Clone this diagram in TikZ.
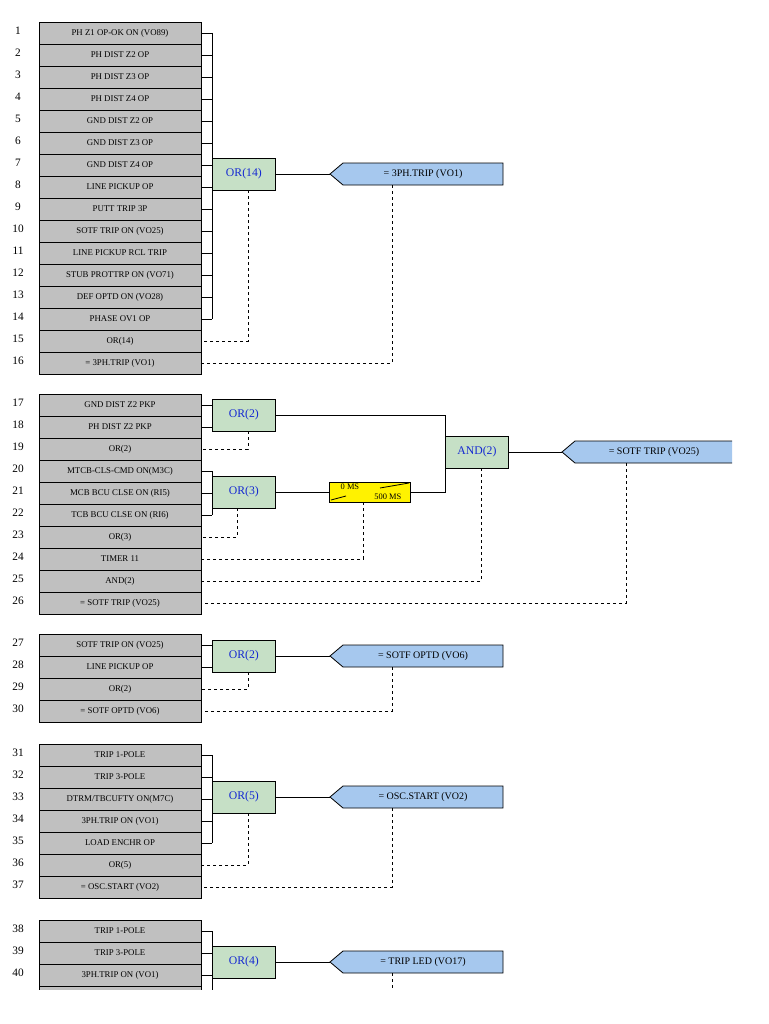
\documentclass[tikz,border=0pt]{standalone}
\usepackage{fontspec}
\setmainfont{Liberation Serif}
\usetikzlibrary{shapes.arrows,shapes.geometric}
\definecolor{rowg}{RGB}{192,192,192}
\definecolor{gateg}{RGB}{198,224,198}
\definecolor{outb}{RGB}{166,200,238}
\definecolor{gblue}{RGB}{20,40,210}
\begin{document}
\begin{tikzpicture}[x=0.75pt,y=-0.75pt,
  row/.style={draw,line width=0.6pt,fill=rowg,minimum width=121.5pt,minimum height=16.5pt,inner sep=0pt,font=\fontsize{6.6}{7}\selectfont},
  num/.style={font=\fontsize{8.5}{9}\selectfont},
  gate/.style={draw,line width=0.6pt,fill=gateg,minimum width=47.25pt,minimum height=24pt,inner sep=0pt,text=gblue,font=\fontsize{8.8}{9}\selectfont},
  wire/.style={line width=0.6pt},
  fb/.style={line width=0.6pt,dash pattern=on 2.5pt off 2pt}]
\useasboundingbox (0,0) rectangle (768,1024);
\begin{scope}
\clip (0,0) rectangle (768,989);
\foreach \i/\y/\t in {
1/33/PH Z1 OP-OK ON (VO89),2/55/PH DIST Z2 OP,3/77/PH DIST Z3 OP,4/99/PH DIST Z4 OP,
5/121/GND DIST Z2 OP,6/143/GND DIST Z3 OP,7/165/GND DIST Z4 OP,8/187/LINE PICKUP OP,
9/209/PUTT TRIP 3P,10/231/SOTF TRIP ON (VO25),11/253/LINE PICKUP RCL TRIP,12/275/STUB PROTTRP ON (VO71),
13/297/DEF OPTD ON (VO28),14/319/PHASE OV1 OP,15/341/OR(14),16/363/= 3PH.TRIP (VO1),
17/405/GND DIST Z2 PKP,18/427/PH DIST Z2 PKP,19/449/OR(2),20/471/MTCB-CLS-CMD ON(M3C),
21/493/MCB BCU CLSE ON (RI5),22/515/TCB BCU CLSE ON (RI6),23/537/OR(3),24/559/TIMER 11,
25/581/AND(2),26/603/= SOTF TRIP (VO25),
27/645/SOTF TRIP ON (VO25),28/667/LINE PICKUP OP,29/689/OR(2),30/711/= SOTF OPTD (VO6),
31/755/TRIP 1-POLE,32/777/TRIP 3-POLE,33/799/{DTRM/TBCUFTY ON(M7C)},34/821/3PH.TRIP ON (VO1),
35/843/LOAD ENCHR OP,36/865/OR(5),37/887/= OSC.START (VO2),
38/931/TRIP 1-POLE,39/953/TRIP 3-POLE,40/975/3PH.TRIP ON (VO1)}{
  \node[row] (r\i) at (120,\y) {\t};
  \node[num] (n\i) at (18,\y-2) {\i};
}
\node[row] (r41) at (120,997) {};
\foreach \i in {1,...,14,17,18,20,21,22,27,28,31,32,33,34,35,38,39,40,41}{
  \draw[wire] (r\i.east) -- ++(8.25pt,0);
}
\draw[wire] (212,33) -- (212,319);
\draw[wire] (212,471) -- (212,515);
\draw[wire] (212,755) -- (212,843);
\draw[wire] (212,931) -- (212,997);
\node[gate,anchor=west] (g1) at (212,174) {OR(14)};
\node[gate,anchor=west] (g2) at (212,415) {OR(2)};
\node[gate,anchor=west] (g3) at (212,492) {OR(3)};
\node[gate,anchor=west] (g4) at (445,452) {AND(2)};
\node[gate,anchor=west] (g5) at (212,656) {OR(2)};
\node[gate,anchor=west] (g6) at (212,797) {OR(5)};
\node[gate,anchor=west] (g7) at (212,962) {OR(4)};
\node[draw,line width=0.6pt,fill=yellow,minimum width=60.75pt,minimum height=15pt,inner sep=0pt] (tm) at (369.5,492) {};
\node[font=\fontsize{6.3}{6}\selectfont,anchor=west] (tm0) at (336,487) {0 MS};
\node[font=\fontsize{6.3}{6}\selectfont,anchor=east] (tm5) at (406,497) {500 MS};
\draw[wire] (331,500) -- (346,496);
\draw[wire] (380,488) -- (409,483);
\foreach \n/\y/\t/\xl/\xr in {o1/174/= 3PH.TRIP (VO1)/330/503, o5/656/= SOTF OPTD (VO6)/330/503,
  o6/797/= OSC.START (VO2)/330/503, o7/962/= TRIP LED (VO17)/330/503}{
  \filldraw[fill=outb,line width=0.6pt] (\xl,\y) -- (\xl+13,\y-11) -- (\xr,\y-11) -- (\xr,\y+11) -- (\xl+13,\y+11) -- cycle;
  \node[font=\fontsize{7.5}{8}\selectfont] (\n) at ({(\xl+13+\xr)/2},\y) {\t};
}
\filldraw[fill=outb,line width=0.6pt] (732,441) -- (575,441) -- (562,452) -- (575,463) -- (732,463);
\node[font=\fontsize{7.5}{8}\selectfont] (o4) at (654,452) {= SOTF TRIP (VO25)};
\draw[wire] (g1.east) -- (330,174);
\draw[wire] (g5.east) -- (330,656);
\draw[wire] (g6.east) -- (330,797);
\draw[wire] (g7.east) -- (330,962);
\draw[wire] (g4.east) -- (562,452);
\draw[wire] (g3.east) -- (tm.west);
\draw[wire] (g2.east) -- (445,415) -- (445,492) -- (tm.east);
\draw[fb] (248,190) -- (248,341) -- (r15.east);
\draw[fb] (392,185) -- (392,363) -- (r16.east);
\draw[fb] (248,431) -- (248,449) -- (r19.east);
\draw[fb] (237,508) -- (237,537) -- (r23.east);
\draw[fb] (363,502) -- (363,559) -- (r24.east);
\draw[fb] (481,468) -- (481,581) -- (r25.east);
\draw[fb] (626,463) -- (626,603) -- (r26.east);
\draw[fb] (248,672) -- (248,689) -- (r29.east);
\draw[fb] (392,667) -- (392,711) -- (r30.east);
\draw[fb] (248,813) -- (248,865) -- (r36.east);
\draw[fb] (392,808) -- (392,887) -- (r37.east);
\draw[fb,line width=0.3pt] (392,973) -- (392,990);
\end{scope}
\end{tikzpicture}
\end{document}
